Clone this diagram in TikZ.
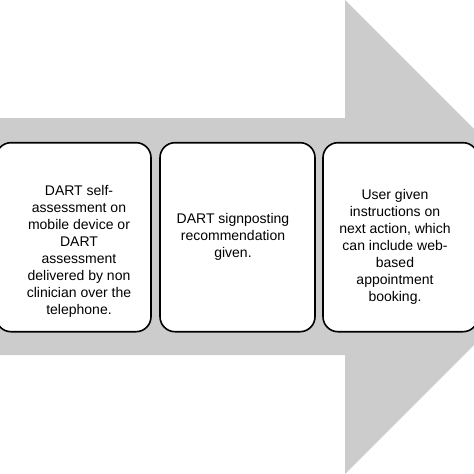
\documentclass[tikz,border=0pt]{standalone}
\usepackage{fontspec}
\setmainfont{Liberation Sans}
\begin{document}
\begin{tikzpicture}[x=1pt,y=-1pt,
  stage/.style={draw=black,line width=1.6pt,fill=white,rounded corners=15pt,
    minimum width=155pt,minimum height=189pt,inner sep=0pt},
  stagetext/.style={align=center,font=\fontsize{14}{17}\selectfont,inner sep=0pt}]
\useasboundingbox (0,0) rectangle (474,474);
\clip (0,0) rectangle (474,474);
\fill[gray!40!white,fill={rgb,255:red,204;green,204;blue,204}]
  (0,118) -- (345,118) -- (345,0) -- (582,237) -- (345,474) -- (345,355) -- (0,355) -- cycle;
\node[stage] (b1) at (73.5,237.2) {};
\node[stage] (b2) at (237.5,237.2) {};
\node[stage] (b3) at (400.5,237.2) {};
\node[stagetext] (t1) at (79,251) {DART self-\\assessment on\\mobile device or\\DART\\assessment\\delivered by non\\clinician over the\\telephone.};
\node[stagetext] (t2) at (233,237) {DART signposting\\recommendation\\given.};
\node[stagetext] (t3) at (395,247) {User given\\instructions on\\next action, which\\can include web-\\based\\appointment\\booking.};
\end{tikzpicture}
\end{document}
